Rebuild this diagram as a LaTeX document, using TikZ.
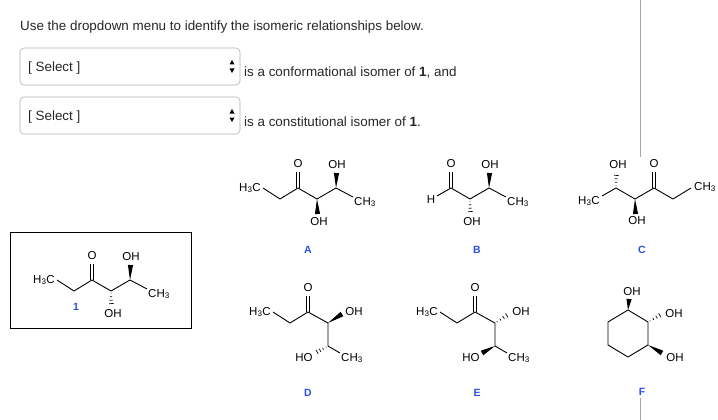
\documentclass[tikz,border=0pt]{standalone}
\usepackage{fontspec}
\setmainfont{Liberation Sans}
\usetikzlibrary{calc}
\definecolor{lblue}{RGB}{40,80,230}
\definecolor{txt}{RGB}{40,40,40}
\tikzset{
  atom/.style={inner sep=0pt,font=\fontsize{11.5}{13}\selectfont},
  lbl/.style={inner sep=0pt,text=lblue,font=\fontsize{10.5}{12}\selectfont\bfseries},
  bond/.style={line width=0.9pt,line join=round},
  selbox/.style={draw=black!30,rounded corners=4pt,line width=0.6pt},
  plain/.style={inner sep=0pt,anchor=base west,text=txt,font=\fontsize{13.4}{15}\selectfont}
}
\newcommand\bw[2]{\fill ($(#1)$) -- ($($(#2)$)!2.6pt!90:($(#1)$)$) -- ($($(#2)$)!2.6pt!-90:($(#1)$)$) -- cycle;}
\newcommand\hw[2]{\foreach \t in {0.15,0.38,0.61,0.84}{\draw[line width=0.7pt] ($($(#1)!\t!(#2)$)!\t*2.7pt!90:(#2)$) -- ($($(#1)!\t!(#2)$)!\t*2.7pt!-90:(#2)$);}}
\newcommand\dbl[2]{\draw[bond] ($(#1)+(-1.6,0)$) -- ($(#2)+(-1.6,0)$); \draw[bond] ($(#1)+(1.6,0)$) -- ($(#2)+(1.6,0)$);}
\begin{document}
\begin{tikzpicture}[x=1pt,y=-1pt]
\useasboundingbox (0,0) rectangle (718,420);
\fill[white] (0,0) rectangle (718,420);
\draw[black!35,line width=0.7pt] (640,0) -- (640,157) (640,398) -- (640,420);
% header
\node[plain] (title) at (20,31) {Use the dropdown menu to identify the isomeric relationships below.};
\draw[selbox] (20,48) rectangle (240,85);
\node[plain] (s1) at (28,72) {[ Select ]};
\fill (232,60) -- (229.5,64.5) -- (234.5,64.5) -- cycle;
\fill (232,73) -- (229.5,68.5) -- (234.5,68.5) -- cycle;
\node[plain] (t1) at (244,77) {is a conformational isomer of \textbf{1}, and};
\draw[selbox] (20,97) rectangle (240,134);
\node[plain] (s2) at (28,121) {[ Select ]};
\fill (232,109) -- (229.5,113.5) -- (234.5,113.5) -- cycle;
\fill (232,122) -- (229.5,117.5) -- (234.5,117.5) -- cycle;
\node[plain] (t2) at (244,126) {is a constitutional isomer of \textbf{1}.};
% compound 1 box
\draw[line width=0.9pt] (10,232) rectangle (191,328);
\newcommand\ketone[4]{%
 \begin{scope}[shift={(#1)}]
  \node[atom] (#4h) at (-48,0) {H\textsubscript{3}C};
  \node[atom] (#4o) at (0,-24) {O};
  \node[atom] (#4m) at (67,14) {CH\textsubscript{3}};
  \node[atom] (#4a) at (21,34) {OH};
  \node[atom] (#4b) at (39,-23) {OH};
  \draw[bond] (-35,0) -- (-18,11) -- (0,0) -- (19,11) -- (38,0) -- (55,9);
  \dbl{0,0}{0,-16}
  #2{19,11}{19.5,26}
  #3{38,0}{38.5,-15}
 \end{scope}}
\ketone{92,280}{\hw}{\bw}{k}
\node[lbl] (n1) at (76,307) {1};
\ketone{298,188}{\bw}{\bw}{ka}
\node[lbl] (la) at (308,250) {A};
% B
\begin{scope}[shift={(451,188)}]
  \node[atom] (bh) at (-20,12) {H};
  \node[atom] (bo) at (0,-24) {O};
  \node[atom] (bm) at (67,14) {CH\textsubscript{3}};
  \node[atom] (ba) at (21,34) {OH};
  \node[atom] (bb) at (39,-23) {OH};
  \draw[bond] (-14,8) -- (0,0) -- (19,11) -- (38,0) -- (55,9);
  \dbl{0,0}{0,-16}
  \hw{19,11}{19.5,26}
  \bw{38,0}{38.5,-15}
\end{scope}
\node[lbl] (lb) at (477,250) {B};
% C
\begin{scope}[shift={(654,188)}]
  \node[atom] (ch) at (51,-1) {CH\textsubscript{3}};
  \node[atom] (co) at (0,-24) {O};
  \node[atom] (cm) at (-65,13) {H\textsubscript{3}C};
  \node[atom] (ca) at (-17,33) {OH};
  \node[atom] (cb) at (-36,-23) {OH};
  \draw[bond] (37,0) -- (19,11) -- (0,0) -- (-19,11) -- (-38,0) -- (-52,8);
  \dbl{0,0}{0,-16}
  \bw{-19,11}{-18.5,26}
  \hw{-38,0}{-37.5,-15}
\end{scope}
\node[lbl] (lc) at (642,250) {C};
\newcommand\ketb[4]{%
 \begin{scope}[shift={(#1)}]
  \node[atom] (#4h) at (-48,0) {H\textsubscript{3}C};
  \node[atom] (#4o) at (0,-24) {O};
  \node[atom] (#4a) at (46,0) {OH};
  \node[atom] (#4b) at (-4,46) {HO};
  \node[atom] (#4m) at (44,46) {CH\textsubscript{3}};
  \draw[bond] (-35,0) -- (-18,11) -- (0,0) -- (20,11) -- (20,34) -- (32,41);
  \dbl{0,0}{0,-16}
  #2{20,11}{34,2}
  #3{20,34}{7,41}
 \end{scope}}
\ketb{308,312}{\bw}{\hw}{kd}
\node[lbl] (ld) at (308,393) {D};
\ketb{475,312}{\hw}{\bw}{ke}
\node[lbl] (le) at (477,393) {E};
% F
\begin{scope}
  \coordinate (f1) at (628,310); \coordinate (f2) at (648,322);
  \coordinate (f3) at (648,345); \coordinate (f4) at (628,357);
  \coordinate (f5) at (608,345); \coordinate (f6) at (608,322);
  \draw[bond] (f1) -- (f2) -- (f3) -- (f4) -- (f5) -- (f6) -- cycle;
  \node[atom] (fa) at (632,292) {OH};
  \node[atom] (fb) at (674,314) {OH};
  \node[atom] (fc) at (675,358) {OH};
  \bw{f1}{629,299}
  \hw{f2}{662,314}
  \bw{f3}{662,353}
\end{scope}
\node[lbl] (lf) at (642,392) {F};
\end{tikzpicture}
\end{document}
